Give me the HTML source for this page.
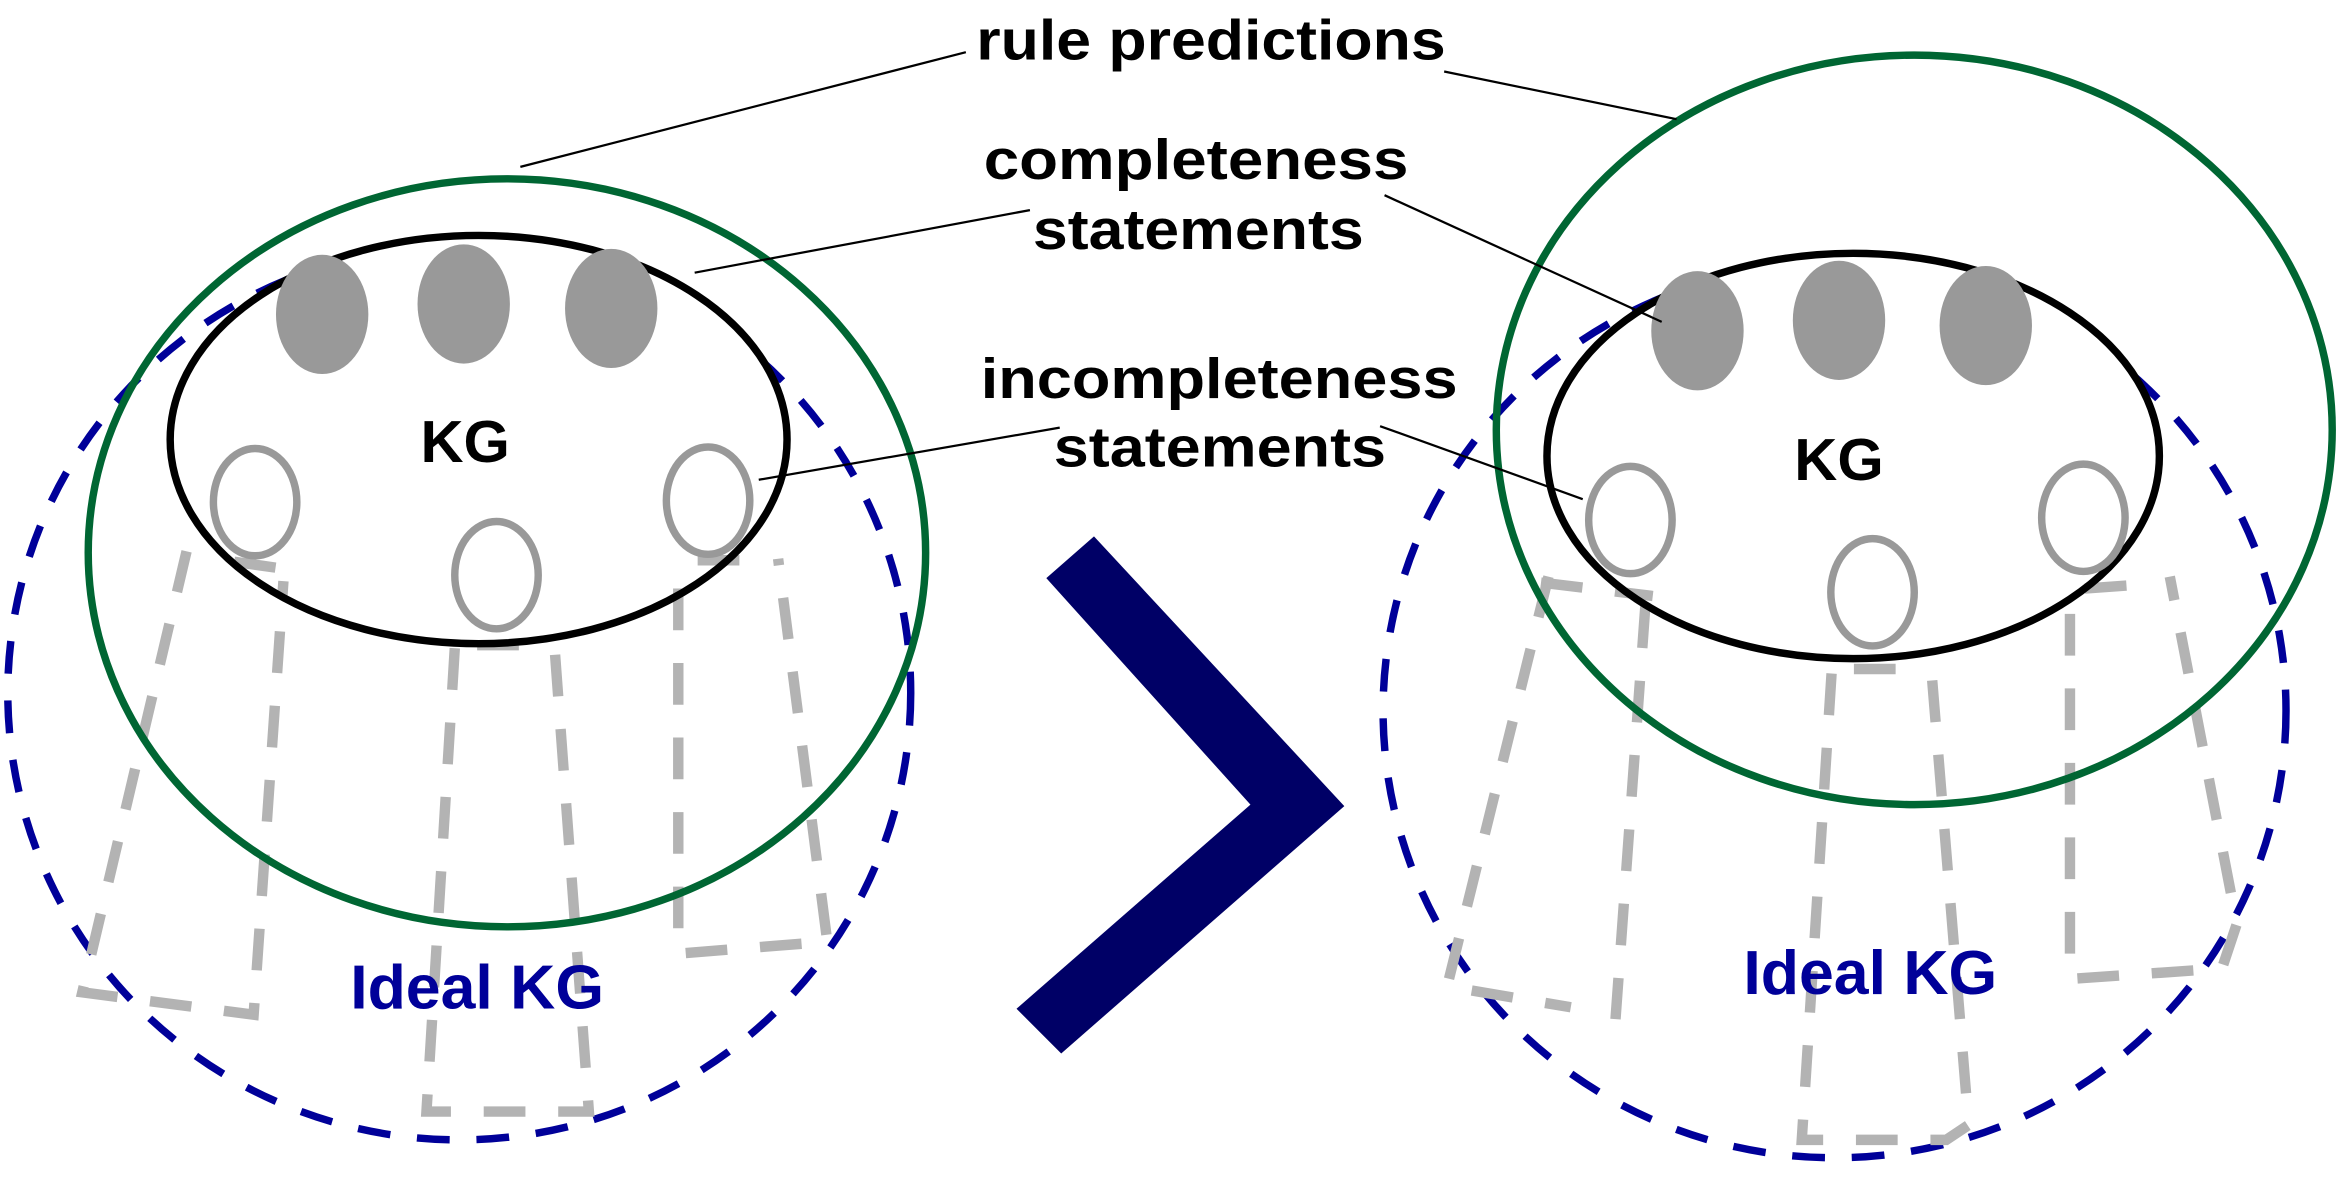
<!DOCTYPE html>
<html><head><meta charset="utf-8"><style>
html,body{margin:0;padding:0;background:#fff;}
svg{display:block;}
text{font-family:"Liberation Sans",Arial,sans-serif;font-weight:bold;}
</style></head><body>
<svg width="2337" height="1195" viewBox="0 0 1568 802" xmlns="http://www.w3.org/2000/svg">
<rect width="1568" height="802" fill="#fff"/>
<!-- LEFT -->
<ellipse cx="308" cy="465" rx="303" ry="300" fill="none" stroke="#000099" stroke-width="5" stroke-dasharray="22,18"/>
<ellipse cx="321" cy="295" rx="207" ry="137" fill="#fff"/>
<g fill="none" stroke="#b3b3b3" stroke-width="7" stroke-dasharray="28,22">
<polyline points="125,370 55,666 170,681 190,390"/>
<line x1="157" y1="377" x2="185" y2="381"/>
<polyline points="305,435 286,746 395,746 372,435"/>
<line x1="320" y1="433" x2="350" y2="433"/>
<polyline points="455,395 455,640 555,632 522,375"/>
<line x1="468" y1="376" x2="496" y2="376"/>
</g>
<ellipse cx="340" cy="371" rx="281" ry="251" fill="none" stroke="#006633" stroke-width="5"/>
<ellipse cx="321" cy="295" rx="207" ry="137" fill="none" stroke="#000" stroke-width="5"/>
<g fill="#999"><ellipse cx="216" cy="211" rx="31" ry="40"/><ellipse cx="311" cy="204" rx="31" ry="40"/><ellipse cx="410" cy="207" rx="31" ry="40"/></g>
<g fill="#fff" stroke="#999" stroke-width="5"><ellipse cx="171" cy="337" rx="28" ry="36"/><ellipse cx="333" cy="386" rx="28" ry="36"/><ellipse cx="475" cy="336" rx="28" ry="36"/></g>
<text x="312" y="310" font-size="40" text-anchor="middle">KG</text>
<text x="320" y="677" font-size="42" text-anchor="middle" fill="#000099">Ideal KG</text>
<!-- chevron -->
<polygon points="702,388 734,360 902,541 712,707 682,677 839,540" fill="#000066"/>
<!-- RIGHT -->
<ellipse cx="1231" cy="477" rx="303" ry="300" fill="none" stroke="#000099" stroke-width="5" stroke-dasharray="22,18"/>
<ellipse cx="1243.5" cy="306" rx="205.5" ry="136" fill="#fff"/>
<g fill="none" stroke="#b3b3b3" stroke-width="7" stroke-dasharray="28,22">
<polyline points="1039,387 971,662 1054,676"/>
<polyline points="1104,407 1084,684"/>
<line x1="1034" y1="391" x2="1109" y2="400"/>
<polyline points="1229,452 1209,765 1306,765 1321,755 1296,450"/>
<line x1="1244" y1="449" x2="1272" y2="449"/>
<polyline points="1389,412 1389,657 1491,650 1501,620 1456,387"/>
<line x1="1399" y1="395" x2="1427" y2="393"/>
</g>
<ellipse cx="1284.5" cy="288.5" rx="280.5" ry="251.5" fill="none" stroke="#006633" stroke-width="5"/>
<ellipse cx="1243.5" cy="306" rx="205.5" ry="136" fill="none" stroke="#000" stroke-width="5"/>
<g fill="#999"><ellipse cx="1139" cy="222" rx="31" ry="40"/><ellipse cx="1234" cy="215" rx="31" ry="40"/><ellipse cx="1332.5" cy="218.5" rx="31" ry="40"/></g>
<g fill="#fff" stroke="#999" stroke-width="5"><ellipse cx="1094" cy="349" rx="28" ry="36"/><ellipse cx="1256.5" cy="397.5" rx="28" ry="36"/><ellipse cx="1398" cy="347.5" rx="28" ry="36"/></g>
<text x="1234" y="322" font-size="40" text-anchor="middle">KG</text>
<text x="1255" y="667" font-size="42" text-anchor="middle" fill="#000099">Ideal KG</text>
<!-- labels -->
<text x="655" y="40" font-size="38" textLength="315" lengthAdjust="spacingAndGlyphs">rule predictions</text>
<text x="660" y="120" font-size="38" textLength="285" lengthAdjust="spacingAndGlyphs">completeness</text>
<text x="693" y="167" font-size="38" textLength="222" lengthAdjust="spacingAndGlyphs">statements</text>
<text x="658" y="267" font-size="38" textLength="320" lengthAdjust="spacingAndGlyphs">incompleteness</text>
<text x="707" y="313" font-size="38" textLength="223" lengthAdjust="spacingAndGlyphs">statements</text>
<g stroke="#000" stroke-width="1.5">
<line x1="648" y1="35" x2="349" y2="112"/>
<line x1="691" y1="141" x2="466" y2="183"/>
<line x1="711" y1="287" x2="509" y2="322"/>
<line x1="969" y1="48" x2="1125" y2="80"/>
<line x1="929" y1="131" x2="1115" y2="216"/>
<line x1="926" y1="286" x2="1062" y2="335"/>
</g>
</svg>
</body></html>
